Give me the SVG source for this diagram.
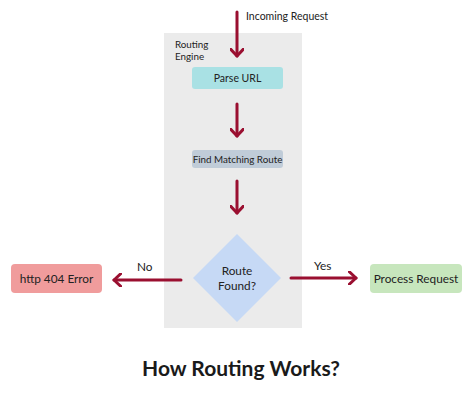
<svg xmlns="http://www.w3.org/2000/svg" width="474" height="412" viewBox="0 0 474 412">
<style>
.lbl{font-family:Lato,"Noto Sans",sans-serif;font-size:10.5px;fill:#222;}
.big{font-family:Lato,"Noto Sans",sans-serif;font-size:11.8px;fill:#222;}
.sm{font-family:Lato,"Noto Sans",sans-serif;font-size:9.8px;fill:#222;}
.title{font-family:Lato,"Noto Sans",sans-serif;font-size:21px;font-weight:bold;fill:#1a1a1a;}
.ln{fill:none;stroke:#9a0f30;stroke-width:3;stroke-linecap:round;stroke-linejoin:round;}
</style>
<defs>
<marker id="ah" viewBox="0 0 10 14" refX="8" refY="7" markerWidth="10" markerHeight="14" markerUnits="userSpaceOnUse" orient="auto">
<path d="M1,0.5 L8,7 L1,13.5" fill="none" stroke="#9a0f30" stroke-width="3" stroke-linecap="round" stroke-linejoin="round"/>
</marker>
</defs>
<rect x="0" y="0" width="474" height="412" fill="#ffffff"/>
<g id="engine">
<rect x="164" y="33" width="138" height="295" fill="#ebebeb"/>
<text class="sm" x="175" y="48">Routing</text>
<text class="sm" x="175" y="60">Engine</text>
</g>
<g id="connectors">
<line class="ln" x1="237" y1="12" x2="237" y2="56" marker-end="url(#ah)"/>
<line class="ln" x1="237" y1="104" x2="237" y2="136" marker-end="url(#ah)"/>
<line class="ln" x1="237" y1="181" x2="237" y2="213" marker-end="url(#ah)"/>
<line class="ln" x1="291" y1="278" x2="356" y2="278" marker-end="url(#ah)"/>
<line class="ln" x1="181" y1="280" x2="114" y2="280" marker-end="url(#ah)"/>
<text class="lbl" x="246" y="20">Incoming Request</text>
<text class="big" x="314" y="270">Yes</text>
<text class="big" x="137" y="271">No</text>
</g>
<g id="parse">
<rect x="192" y="67" width="91" height="22" rx="3" fill="#a9e1e4"/>
<text class="lbl" x="237.5" y="81.5" text-anchor="middle">Parse URL</text>
</g>
<g id="find">
<rect x="192" y="150" width="91" height="18" rx="3" fill="#c0ccd8"/>
<text class="sm" x="237.5" y="162.5" text-anchor="middle">Find Matching Route</text>
</g>
<g id="decision">
<polygon points="237,234 281,278 237,322 193,278" fill="#c6d9f5"/>
<text class="big" x="237" y="275" text-anchor="middle">Route</text>
<text class="big" x="237" y="290" text-anchor="middle">Found?</text>
</g>
<g id="process">
<rect x="370" y="264" width="92" height="29" rx="4" fill="#c7e6bd"/>
<text class="big" x="416" y="283" text-anchor="middle">Process Request</text>
</g>
<g id="error">
<rect x="11" y="264" width="91" height="29" rx="4" fill="#f09c9c"/>
<text class="big" x="56.5" y="283" text-anchor="middle">http 404 Error</text>
</g>
<text class="title" x="241" y="376" text-anchor="middle">How Routing Works?</text>
</svg>
